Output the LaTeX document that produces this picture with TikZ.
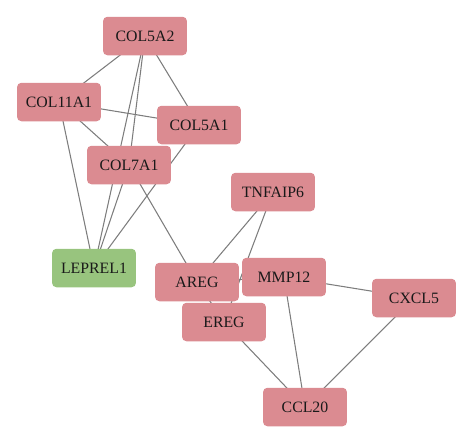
\documentclass[tikz,border=0pt]{standalone}
\usepackage{tikz}
\usepackage{fontspec}
\setmainfont{Liberation Serif}
\usetikzlibrary{backgrounds}

\definecolor{genepink}{RGB}{219,139,145}
\definecolor{genegreen}{RGB}{152,196,126}
\definecolor{edgegray}{RGB}{125,125,125}

\tikzset{
  gene/.style={draw=none, fill=genepink, rounded corners=2.5pt, minimum width=1.68cm,
    minimum height=0.77cm, inner sep=0pt, text=black!90, font=\fontsize{9}{10}\selectfont},
  hub/.style={gene, fill=genegreen},
  link/.style={draw=edgegray, line width=0.6pt}
}

\begin{document}
\begin{tikzpicture}[x=0.02cm, y=-0.02cm]
\useasboundingbox (0,0) rectangle (474,444);

\node[gene] (col5a2) at (145,36) {COL5A2};
\node[gene] (col11a1) at (59,102) {COL11A1};
\node[gene] (col5a1) at (199,125) {COL5A1};
\node[gene] (col7a1) at (129,165) {COL7A1};
\node[gene] (tnfaip6) at (273,192) {TNFAIP6};
\node[hub] (leprel1) at (94,268) {LEPREL1};
\node[gene] (areg) at (197,282) {AREG};
\node[gene] (mmp12) at (284,277) {MMP12};
\node[gene] (cxcl5) at (414,298) {CXCL5};
\node[gene] (ereg) at (224,322) {EREG};
\node[gene] (ccl20) at (305,407) {CCL20};

\begin{pgfonlayer}{background}
\foreach \a/\b in {col5a2/col11a1, col5a2/col5a1, col5a2/col7a1, col5a2/leprel1,
    col11a1/col5a1, col11a1/col7a1, col11a1/leprel1, col5a1/leprel1,
    col7a1/leprel1, col7a1/areg, tnfaip6/areg, tnfaip6/ereg, areg/ereg,
    areg/mmp12, mmp12/cxcl5, mmp12/ccl20, cxcl5/ccl20, ereg/ccl20} {
  \draw[link] (\a.center) -- (\b.center);
}
\end{pgfonlayer}
\end{tikzpicture}
\end{document}
